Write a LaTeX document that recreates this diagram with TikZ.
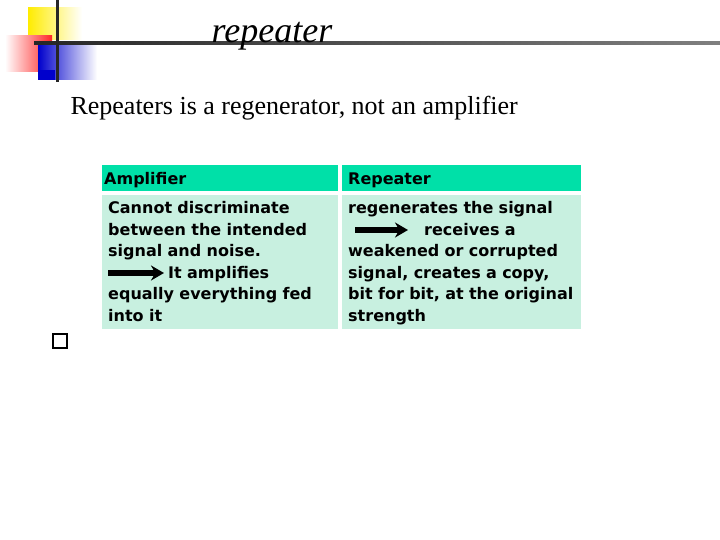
\documentclass[tikz,border=0pt]{standalone}
\usepackage{fontspec}
\usetikzlibrary{arrows.meta}
\setmainfont{Liberation Serif}
\newfontfamily\cellfont{DejaVu Sans}
\definecolor{hdr}{HTML}{00E0A8}
\definecolor{bod}{HTML}{C8F0E0}
\begin{document}
\begin{tikzpicture}[x=1pt,y=-1pt,
  cell/.style={anchor=north west,inner sep=0pt,text width=#1,align=left,font=\cellfont\bfseries\fontsize{16}{21.5}\selectfont},
  arr/.style={line width=5.5pt,-{Stealth[length=13pt,width=15pt]}}]
\useasboundingbox (0,0) rectangle (720,540);
% decoration
\shade[left color=yellow!85!orange,right color=white] (28,8) rectangle (82,40);
\shade[left color=white,right color=red!85] (5,36) rectangle (52,72);
\shade[left color=blue!80!black,right color=white] (38,42) rectangle (97,80);
\fill[blue!80!black] (38,70) rectangle (55,80);
\shade[left color=black!85,right color=black!50] (34,42) rectangle (720,45);
\fill[black!85] (56,0) rectangle (59,82);
% title
\node[font=\itshape\fontsize{36}{40}\selectfont,anchor=base] (title) at (272,43) {repeater};
\node[font=\fontsize{26}{30}\selectfont,anchor=base west] (sub) at (67,115) {Repeaters is a regenerator, not an amplifier};
% table
\fill[hdr] (102,165) rectangle (338,191);
\fill[hdr] (342,165) rectangle (581,191);
\fill[bod] (102,195) rectangle (338,329);
\fill[bod] (342,195) rectangle (581,329);
\node[cell=235pt,anchor=base west] (h1) at (104,185) {Amplifier};
\node[cell=235pt,anchor=base west] (h2) at (348,185) {Repeater};
\node[cell=235pt,anchor=base west] (b1) at (108,214) {Cannot discriminate\\between the intended\\signal and noise.\\\hspace*{60pt}It amplifies\\equally everything fed\\into it};
\node[cell=240pt,anchor=base west] (b2) at (348,214) {regenerates the signal\\\hspace*{76pt}receives a\\weakened or corrupted\\signal, creates a copy,\\bit for bit, at the original\\strength};
\coordinate (a1s) at (108,273); \coordinate (a1e) at (164,273);
\draw[arr] (a1s) -- (a1e);
\coordinate (a2s) at (355,230); \coordinate (a2e) at (408,230);
\draw[arr] (a2s) -- (a2e);
\node[draw,line width=1.2pt,minimum size=14pt,inner sep=0pt] (bullet) at (60,341) {};
\end{tikzpicture}
\end{document}
